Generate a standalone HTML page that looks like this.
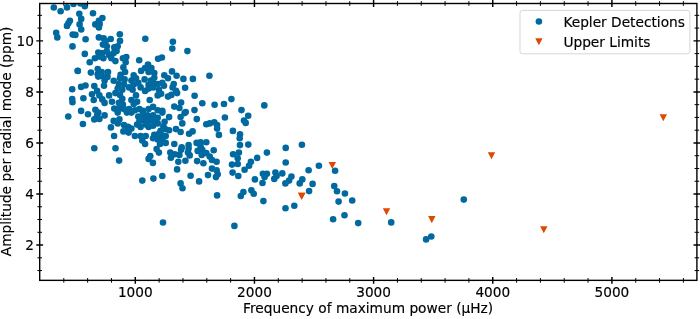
<!DOCTYPE html>
<html><head><meta charset="utf-8"><title>Amplitude vs frequency</title>
<style>html,body{margin:0;padding:0;background:#fff}body{width:700px;height:319px;overflow:hidden}svg{display:block}text{stroke:#000;stroke-width:0.15px;font-family:"DejaVu Sans","Liberation Sans",sans-serif;fill:#000}</style></head><body>
<svg width="700" height="319" viewBox="0 0 700 319">
<rect width="700" height="319" fill="#fff"/>
<defs><clipPath id="ax"><rect x="39.7" y="3.5" width="657.1999999999999" height="276.85"/></clipPath></defs>
<g clip-path="url(#ax)" fill="#0069a0">
<circle cx="53.8" cy="7.5" r="3.3"/>
<circle cx="60.6" cy="11.3" r="3.3"/>
<circle cx="67.0" cy="7.4" r="3.3"/>
<circle cx="73.5" cy="3.9" r="3.3"/>
<circle cx="80.5" cy="3.5" r="3.3"/>
<circle cx="84.8" cy="6.3" r="3.3"/>
<circle cx="93.0" cy="13.2" r="3.3"/>
<circle cx="79.3" cy="13.8" r="3.3"/>
<circle cx="81.2" cy="18.9" r="3.3"/>
<circle cx="69.9" cy="20.7" r="3.3"/>
<circle cx="67.0" cy="25.9" r="3.3"/>
<circle cx="79.6" cy="24.4" r="3.3"/>
<circle cx="81.2" cy="29.5" r="3.3"/>
<circle cx="102.4" cy="18.1" r="3.3"/>
<circle cx="98.9" cy="20.7" r="3.3"/>
<circle cx="95.3" cy="24.4" r="3.3"/>
<circle cx="98.9" cy="27.5" r="3.3"/>
<circle cx="56.2" cy="32.7" r="3.3"/>
<circle cx="57.3" cy="37.4" r="3.3"/>
<circle cx="72.7" cy="34.6" r="3.3"/>
<circle cx="75.4" cy="34.9" r="3.3"/>
<circle cx="85.6" cy="39.3" r="3.3"/>
<circle cx="72.5" cy="46.4" r="3.3"/>
<circle cx="98.9" cy="37.4" r="3.3"/>
<circle cx="103.6" cy="38.2" r="3.3"/>
<circle cx="110.7" cy="39.0" r="3.3"/>
<circle cx="119.8" cy="34.3" r="3.3"/>
<circle cx="145.3" cy="38.7" r="3.3"/>
<circle cx="68.4" cy="23.3" r="3.3"/>
<circle cx="99.7" cy="23.9" r="3.3"/>
<circle cx="77.7" cy="70.7" r="3.3"/>
<circle cx="72.2" cy="89.3" r="3.3"/>
<circle cx="72.2" cy="99.0" r="3.3"/>
<circle cx="68.3" cy="116.5" r="3.3"/>
<circle cx="335.1" cy="170.7" r="3.3"/>
<circle cx="334.2" cy="186.1" r="3.3"/>
<circle cx="337.0" cy="191.2" r="3.3"/>
<circle cx="344.9" cy="193.5" r="3.3"/>
<circle cx="163.0" cy="222.5" r="3.3"/>
<circle cx="234.4" cy="225.9" r="3.3"/>
<circle cx="338.6" cy="201.6" r="3.3"/>
<circle cx="352.2" cy="200.5" r="3.3"/>
<circle cx="344.5" cy="215.2" r="3.3"/>
<circle cx="333.1" cy="219.3" r="3.3"/>
<circle cx="358.2" cy="223.1" r="3.3"/>
<circle cx="463.8" cy="199.6" r="3.3"/>
<circle cx="391.2" cy="222.4" r="3.3"/>
<circle cx="426.1" cy="239.4" r="3.3"/>
<circle cx="431.3" cy="236.5" r="3.3"/>
<circle cx="84.8" cy="53.9" r="3.3"/>
<circle cx="89.7" cy="62.3" r="3.3"/>
<circle cx="94.9" cy="58.3" r="3.3"/>
<circle cx="98.3" cy="52.6" r="3.3"/>
<circle cx="103.4" cy="58.3" r="3.3"/>
<circle cx="102.9" cy="44.6" r="3.3"/>
<circle cx="105.7" cy="41.1" r="3.3"/>
<circle cx="106.9" cy="46.3" r="3.3"/>
<circle cx="106.9" cy="51.4" r="3.3"/>
<circle cx="109.1" cy="54.9" r="3.3"/>
<circle cx="111.4" cy="58.3" r="3.3"/>
<circle cx="115.4" cy="61.1" r="3.3"/>
<circle cx="114.3" cy="47.4" r="3.3"/>
<circle cx="117.7" cy="46.3" r="3.3"/>
<circle cx="116.6" cy="50.9" r="3.3"/>
<circle cx="113.7" cy="53.1" r="3.3"/>
<circle cx="120.0" cy="40.9" r="3.3"/>
<circle cx="122.9" cy="58.3" r="3.3"/>
<circle cx="126.3" cy="57.1" r="3.3"/>
<circle cx="125.7" cy="62.3" r="3.3"/>
<circle cx="123.4" cy="67.4" r="3.3"/>
<circle cx="125.1" cy="72.0" r="3.3"/>
<circle cx="120.6" cy="74.9" r="3.3"/>
<circle cx="139.2" cy="60.3" r="3.3"/>
<circle cx="148.0" cy="64.6" r="3.3"/>
<circle cx="145.1" cy="68.0" r="3.3"/>
<circle cx="151.4" cy="68.0" r="3.3"/>
<circle cx="141.1" cy="70.9" r="3.3"/>
<circle cx="148.6" cy="72.0" r="3.3"/>
<circle cx="154.3" cy="73.1" r="3.3"/>
<circle cx="90.9" cy="72.6" r="3.3"/>
<circle cx="97.7" cy="69.1" r="3.3"/>
<circle cx="101.7" cy="72.0" r="3.3"/>
<circle cx="108.0" cy="72.0" r="3.3"/>
<circle cx="101.1" cy="75.9" r="3.3"/>
<circle cx="107.2" cy="75.9" r="3.3"/>
<circle cx="97.7" cy="74.3" r="3.3"/>
<circle cx="102.3" cy="53.1" r="3.3"/>
<circle cx="99.4" cy="56.6" r="3.3"/>
<circle cx="148.6" cy="68.6" r="3.3"/>
<circle cx="133.7" cy="75.4" r="3.3"/>
<circle cx="172.9" cy="41.7" r="3.3"/>
<circle cx="172.3" cy="48.6" r="3.3"/>
<circle cx="187.4" cy="51.1" r="3.3"/>
<circle cx="172.0" cy="71.4" r="3.3"/>
<circle cx="164.3" cy="75.2" r="3.3"/>
<circle cx="176.6" cy="75.7" r="3.3"/>
<circle cx="209.4" cy="75.7" r="3.3"/>
<circle cx="81.1" cy="86.9" r="3.3"/>
<circle cx="85.5" cy="85.5" r="3.3"/>
<circle cx="83.4" cy="98.3" r="3.3"/>
<circle cx="94.3" cy="86.1" r="3.3"/>
<circle cx="92.0" cy="94.3" r="3.3"/>
<circle cx="93.7" cy="100.0" r="3.3"/>
<circle cx="97.1" cy="90.9" r="3.3"/>
<circle cx="99.4" cy="95.4" r="3.3"/>
<circle cx="102.3" cy="99.4" r="3.3"/>
<circle cx="104.6" cy="102.9" r="3.3"/>
<circle cx="104.6" cy="80.6" r="3.3"/>
<circle cx="104.0" cy="85.7" r="3.3"/>
<circle cx="98.3" cy="76.6" r="3.3"/>
<circle cx="107.4" cy="77.1" r="3.3"/>
<circle cx="113.7" cy="80.8" r="3.3"/>
<circle cx="109.1" cy="95.4" r="3.3"/>
<circle cx="112.0" cy="101.7" r="3.3"/>
<circle cx="95.4" cy="109.7" r="3.3"/>
<circle cx="81.1" cy="110.9" r="3.3"/>
<circle cx="120.0" cy="78.3" r="3.3"/>
<circle cx="124.6" cy="79.4" r="3.3"/>
<circle cx="118.9" cy="84.0" r="3.3"/>
<circle cx="124.0" cy="84.6" r="3.3"/>
<circle cx="117.7" cy="88.6" r="3.3"/>
<circle cx="122.3" cy="89.7" r="3.3"/>
<circle cx="115.4" cy="93.1" r="3.3"/>
<circle cx="120.0" cy="94.9" r="3.3"/>
<circle cx="122.3" cy="98.9" r="3.3"/>
<circle cx="118.9" cy="102.9" r="3.3"/>
<circle cx="122.9" cy="104.6" r="3.3"/>
<circle cx="114.3" cy="108.6" r="3.3"/>
<circle cx="118.9" cy="109.1" r="3.3"/>
<circle cx="124.0" cy="109.1" r="3.3"/>
<circle cx="131.4" cy="80.6" r="3.3"/>
<circle cx="129.1" cy="87.4" r="3.3"/>
<circle cx="132.6" cy="89.7" r="3.3"/>
<circle cx="136.0" cy="78.3" r="3.3"/>
<circle cx="138.3" cy="82.9" r="3.3"/>
<circle cx="140.6" cy="87.4" r="3.3"/>
<circle cx="144.6" cy="79.4" r="3.3"/>
<circle cx="148.6" cy="84.7" r="3.3"/>
<circle cx="150.9" cy="80.6" r="3.3"/>
<circle cx="154.3" cy="77.7" r="3.3"/>
<circle cx="145.1" cy="90.9" r="3.3"/>
<circle cx="148.6" cy="88.6" r="3.3"/>
<circle cx="153.1" cy="87.4" r="3.3"/>
<circle cx="157.7" cy="84.0" r="3.3"/>
<circle cx="158.9" cy="89.7" r="3.3"/>
<circle cx="136.0" cy="95.4" r="3.3"/>
<circle cx="131.4" cy="100.0" r="3.3"/>
<circle cx="137.1" cy="101.7" r="3.3"/>
<circle cx="133.7" cy="104.0" r="3.3"/>
<circle cx="149.7" cy="100.0" r="3.3"/>
<circle cx="157.7" cy="95.4" r="3.3"/>
<circle cx="153.1" cy="106.9" r="3.3"/>
<circle cx="148.6" cy="109.1" r="3.3"/>
<circle cx="157.7" cy="110.3" r="3.3"/>
<circle cx="142.9" cy="110.9" r="3.3"/>
<circle cx="129.1" cy="109.1" r="3.3"/>
<circle cx="134.9" cy="110.3" r="3.3"/>
<circle cx="133.7" cy="84.6" r="3.3"/>
<circle cx="153.1" cy="82.9" r="3.3"/>
<circle cx="139.4" cy="109.1" r="3.3"/>
<circle cx="168.0" cy="78.3" r="3.3"/>
<circle cx="183.4" cy="78.9" r="3.3"/>
<circle cx="192.9" cy="78.9" r="3.3"/>
<circle cx="162.3" cy="82.9" r="3.3"/>
<circle cx="164.0" cy="85.7" r="3.3"/>
<circle cx="173.7" cy="84.0" r="3.3"/>
<circle cx="172.6" cy="87.4" r="3.3"/>
<circle cx="185.1" cy="87.7" r="3.3"/>
<circle cx="176.0" cy="90.9" r="3.3"/>
<circle cx="177.1" cy="93.1" r="3.3"/>
<circle cx="171.4" cy="94.9" r="3.3"/>
<circle cx="168.0" cy="96.6" r="3.3"/>
<circle cx="161.1" cy="93.7" r="3.3"/>
<circle cx="194.6" cy="95.7" r="3.3"/>
<circle cx="181.1" cy="102.5" r="3.3"/>
<circle cx="174.3" cy="106.6" r="3.3"/>
<circle cx="179.4" cy="108.0" r="3.3"/>
<circle cx="202.3" cy="103.2" r="3.3"/>
<circle cx="214.6" cy="104.8" r="3.3"/>
<circle cx="224.0" cy="104.0" r="3.3"/>
<circle cx="231.4" cy="99.1" r="3.3"/>
<circle cx="194.5" cy="110.1" r="3.3"/>
<circle cx="162.3" cy="110.9" r="3.3"/>
<circle cx="185.7" cy="112.0" r="3.3"/>
<circle cx="264.3" cy="105.4" r="3.3"/>
<circle cx="241.5" cy="110.1" r="3.3"/>
<circle cx="88.0" cy="114.3" r="3.3"/>
<circle cx="94.3" cy="119.4" r="3.3"/>
<circle cx="97.1" cy="115.4" r="3.3"/>
<circle cx="99.4" cy="118.9" r="3.3"/>
<circle cx="104.6" cy="115.4" r="3.3"/>
<circle cx="98.3" cy="112.6" r="3.3"/>
<circle cx="82.9" cy="124.0" r="3.3"/>
<circle cx="113.7" cy="120.9" r="3.3"/>
<circle cx="119.4" cy="119.4" r="3.3"/>
<circle cx="110.9" cy="127.4" r="3.3"/>
<circle cx="117.7" cy="123.4" r="3.3"/>
<circle cx="124.0" cy="125.1" r="3.3"/>
<circle cx="128.0" cy="126.9" r="3.3"/>
<circle cx="131.4" cy="128.6" r="3.3"/>
<circle cx="123.4" cy="131.4" r="3.3"/>
<circle cx="128.6" cy="132.6" r="3.3"/>
<circle cx="114.1" cy="136.0" r="3.3"/>
<circle cx="134.9" cy="136.0" r="3.3"/>
<circle cx="140.6" cy="136.0" r="3.3"/>
<circle cx="145.7" cy="136.0" r="3.3"/>
<circle cx="142.3" cy="140.6" r="3.3"/>
<circle cx="145.1" cy="144.0" r="3.3"/>
<circle cx="126.9" cy="112.6" r="3.3"/>
<circle cx="131.4" cy="112.6" r="3.3"/>
<circle cx="138.3" cy="116.6" r="3.3"/>
<circle cx="142.9" cy="114.9" r="3.3"/>
<circle cx="147.4" cy="115.4" r="3.3"/>
<circle cx="153.1" cy="115.4" r="3.3"/>
<circle cx="157.7" cy="117.7" r="3.3"/>
<circle cx="139.4" cy="121.1" r="3.3"/>
<circle cx="144.0" cy="120.6" r="3.3"/>
<circle cx="148.6" cy="121.1" r="3.3"/>
<circle cx="154.3" cy="121.7" r="3.3"/>
<circle cx="140.6" cy="126.9" r="3.3"/>
<circle cx="148.6" cy="126.9" r="3.3"/>
<circle cx="153.1" cy="125.7" r="3.3"/>
<circle cx="157.7" cy="123.4" r="3.3"/>
<circle cx="137.1" cy="124.6" r="3.3"/>
<circle cx="154.3" cy="134.9" r="3.3"/>
<circle cx="158.9" cy="133.7" r="3.3"/>
<circle cx="153.1" cy="138.3" r="3.3"/>
<circle cx="157.7" cy="139.4" r="3.3"/>
<circle cx="160.0" cy="144.0" r="3.3"/>
<circle cx="117.7" cy="112.6" r="3.3"/>
<circle cx="94.3" cy="148.3" r="3.3"/>
<circle cx="115.5" cy="148.3" r="3.3"/>
<circle cx="145.1" cy="118.3" r="3.3"/>
<circle cx="145.7" cy="124.6" r="3.3"/>
<circle cx="151.4" cy="118.9" r="3.3"/>
<circle cx="162.3" cy="112.6" r="3.3"/>
<circle cx="169.1" cy="117.1" r="3.3"/>
<circle cx="184.6" cy="113.1" r="3.3"/>
<circle cx="180.6" cy="117.1" r="3.3"/>
<circle cx="182.3" cy="123.4" r="3.3"/>
<circle cx="196.8" cy="119.1" r="3.3"/>
<circle cx="224.9" cy="117.5" r="3.3"/>
<circle cx="206.3" cy="124.3" r="3.3"/>
<circle cx="209.7" cy="123.4" r="3.3"/>
<circle cx="214.3" cy="122.3" r="3.3"/>
<circle cx="217.1" cy="125.1" r="3.3"/>
<circle cx="217.1" cy="128.6" r="3.3"/>
<circle cx="218.9" cy="134.9" r="3.3"/>
<circle cx="232.9" cy="130.9" r="3.3"/>
<circle cx="164.6" cy="121.7" r="3.3"/>
<circle cx="163.4" cy="126.3" r="3.3"/>
<circle cx="165.1" cy="129.1" r="3.3"/>
<circle cx="169.1" cy="130.3" r="3.3"/>
<circle cx="176.0" cy="129.1" r="3.3"/>
<circle cx="180.6" cy="132.0" r="3.3"/>
<circle cx="192.6" cy="131.4" r="3.3"/>
<circle cx="189.1" cy="133.7" r="3.3"/>
<circle cx="161.1" cy="134.9" r="3.3"/>
<circle cx="165.7" cy="136.0" r="3.3"/>
<circle cx="162.3" cy="139.4" r="3.3"/>
<circle cx="165.7" cy="142.9" r="3.3"/>
<circle cx="174.3" cy="144.0" r="3.3"/>
<circle cx="181.7" cy="147.4" r="3.3"/>
<circle cx="188.6" cy="145.1" r="3.3"/>
<circle cx="196.6" cy="142.9" r="3.3"/>
<circle cx="200.6" cy="142.3" r="3.3"/>
<circle cx="206.3" cy="142.3" r="3.3"/>
<circle cx="200.6" cy="146.3" r="3.3"/>
<circle cx="160.6" cy="130.9" r="3.3"/>
<circle cx="248.2" cy="115.7" r="3.3"/>
<circle cx="244.0" cy="120.6" r="3.3"/>
<circle cx="245.7" cy="122.9" r="3.3"/>
<circle cx="240.0" cy="134.3" r="3.3"/>
<circle cx="239.7" cy="138.3" r="3.3"/>
<circle cx="240.0" cy="145.1" r="3.3"/>
<circle cx="248.3" cy="144.6" r="3.3"/>
<circle cx="285.7" cy="147.9" r="3.3"/>
<circle cx="301.9" cy="144.8" r="3.3"/>
<circle cx="119.1" cy="160.6" r="3.3"/>
<circle cx="150.3" cy="156.0" r="3.3"/>
<circle cx="148.6" cy="158.9" r="3.3"/>
<circle cx="152.9" cy="162.9" r="3.3"/>
<circle cx="158.9" cy="152.6" r="3.3"/>
<circle cx="156.6" cy="149.1" r="3.3"/>
<circle cx="142.3" cy="180.6" r="3.3"/>
<circle cx="153.4" cy="178.6" r="3.3"/>
<circle cx="170.3" cy="152.6" r="3.3"/>
<circle cx="170.9" cy="157.7" r="3.3"/>
<circle cx="174.9" cy="154.3" r="3.3"/>
<circle cx="179.4" cy="154.9" r="3.3"/>
<circle cx="181.1" cy="149.7" r="3.3"/>
<circle cx="178.3" cy="161.7" r="3.3"/>
<circle cx="185.4" cy="160.8" r="3.3"/>
<circle cx="188.0" cy="152.6" r="3.3"/>
<circle cx="189.7" cy="155.4" r="3.3"/>
<circle cx="188.6" cy="148.6" r="3.3"/>
<circle cx="177.1" cy="169.4" r="3.3"/>
<circle cx="162.3" cy="176.0" r="3.3"/>
<circle cx="190.6" cy="175.8" r="3.3"/>
<circle cx="199.1" cy="181.4" r="3.3"/>
<circle cx="180.6" cy="183.4" r="3.3"/>
<circle cx="197.1" cy="161.1" r="3.3"/>
<circle cx="203.4" cy="163.2" r="3.3"/>
<circle cx="197.7" cy="150.9" r="3.3"/>
<circle cx="202.3" cy="149.7" r="3.3"/>
<circle cx="201.7" cy="154.9" r="3.3"/>
<circle cx="206.3" cy="153.1" r="3.3"/>
<circle cx="209.7" cy="156.6" r="3.3"/>
<circle cx="212.0" cy="160.0" r="3.3"/>
<circle cx="216.6" cy="161.7" r="3.3"/>
<circle cx="213.7" cy="150.3" r="3.3"/>
<circle cx="212.0" cy="168.6" r="3.3"/>
<circle cx="216.6" cy="170.3" r="3.3"/>
<circle cx="217.7" cy="174.3" r="3.3"/>
<circle cx="216.0" cy="177.1" r="3.3"/>
<circle cx="208.0" cy="175.1" r="3.3"/>
<circle cx="233.1" cy="154.3" r="3.3"/>
<circle cx="238.9" cy="152.6" r="3.3"/>
<circle cx="237.7" cy="158.3" r="3.3"/>
<circle cx="232.0" cy="164.6" r="3.3"/>
<circle cx="237.7" cy="164.0" r="3.3"/>
<circle cx="232.6" cy="172.6" r="3.3"/>
<circle cx="238.3" cy="176.0" r="3.3"/>
<circle cx="266.9" cy="152.6" r="3.3"/>
<circle cx="257.1" cy="157.9" r="3.3"/>
<circle cx="250.9" cy="161.7" r="3.3"/>
<circle cx="249.1" cy="165.7" r="3.3"/>
<circle cx="244.6" cy="169.7" r="3.3"/>
<circle cx="285.7" cy="162.5" r="3.3"/>
<circle cx="318.9" cy="165.7" r="3.3"/>
<circle cx="308.6" cy="170.3" r="3.3"/>
<circle cx="262.9" cy="173.7" r="3.3"/>
<circle cx="266.9" cy="173.7" r="3.3"/>
<circle cx="264.6" cy="177.1" r="3.3"/>
<circle cx="254.9" cy="179.4" r="3.3"/>
<circle cx="262.5" cy="183.0" r="3.3"/>
<circle cx="275.4" cy="172.6" r="3.3"/>
<circle cx="276.6" cy="176.0" r="3.3"/>
<circle cx="274.3" cy="178.9" r="3.3"/>
<circle cx="282.3" cy="173.4" r="3.3"/>
<circle cx="291.4" cy="176.6" r="3.3"/>
<circle cx="289.1" cy="180.6" r="3.3"/>
<circle cx="285.4" cy="183.4" r="3.3"/>
<circle cx="302.3" cy="179.4" r="3.3"/>
<circle cx="299.7" cy="183.4" r="3.3"/>
<circle cx="312.6" cy="183.9" r="3.3"/>
<circle cx="182.5" cy="188.3" r="3.3"/>
<circle cx="217.1" cy="195.4" r="3.3"/>
<circle cx="243.4" cy="192.0" r="3.3"/>
<circle cx="240.8" cy="196.0" r="3.3"/>
<circle cx="251.4" cy="190.3" r="3.3"/>
<circle cx="253.7" cy="193.7" r="3.3"/>
<circle cx="263.4" cy="201.1" r="3.3"/>
<circle cx="309.1" cy="191.1" r="3.3"/>
<circle cx="294.3" cy="205.7" r="3.3"/>
<circle cx="285.5" cy="208.3" r="3.3"/>
<circle cx="72.5" cy="102.2" r="3.3"/>
<circle cx="77.8" cy="71.0" r="3.3"/>
<circle cx="158.1" cy="58.7" r="3.3"/>
<circle cx="161.9" cy="57.5" r="3.3"/>
</g>
<g fill="#de4800">
<path d="M328.60 161.95H336.00L332.30 169.05Z"/>
<path d="M382.80 208.15H390.20L386.50 215.25Z"/>
<path d="M428.10 216.05H435.50L431.80 223.15Z"/>
<path d="M487.80 152.25H495.20L491.50 159.35Z"/>
<path d="M540.10 226.15H547.50L543.80 233.25Z"/>
<path d="M659.60 114.15H667.00L663.30 121.25Z"/>
<path d="M298.00 192.75H305.40L301.70 199.85Z"/>
<path d="M298.00 192.75H305.40L301.70 199.85Z"/>
</g>
<g stroke="#000" stroke-width="1" fill="none">
<path d="M63.81 278.05V282.65000000000003M63.81 1.2000000000000002V5.8" stroke-width="1.0"/>
<path d="M87.64 278.05V282.65000000000003M87.64 1.2000000000000002V5.8" stroke-width="1.0"/>
<path d="M111.47 278.05V282.65000000000003M111.47 1.2000000000000002V5.8" stroke-width="1.0"/>
<path d="M135.30 276.95000000000005V283.75M135.30 0.10000000000000009V6.9" stroke-width="1.45"/>
<path d="M159.13 278.05V282.65000000000003M159.13 1.2000000000000002V5.8" stroke-width="1.0"/>
<path d="M182.96 278.05V282.65000000000003M182.96 1.2000000000000002V5.8" stroke-width="1.0"/>
<path d="M206.79 278.05V282.65000000000003M206.79 1.2000000000000002V5.8" stroke-width="1.0"/>
<path d="M230.62 278.05V282.65000000000003M230.62 1.2000000000000002V5.8" stroke-width="1.0"/>
<path d="M254.45 276.95000000000005V283.75M254.45 0.10000000000000009V6.9" stroke-width="1.45"/>
<path d="M278.28 278.05V282.65000000000003M278.28 1.2000000000000002V5.8" stroke-width="1.0"/>
<path d="M302.11 278.05V282.65000000000003M302.11 1.2000000000000002V5.8" stroke-width="1.0"/>
<path d="M325.94 278.05V282.65000000000003M325.94 1.2000000000000002V5.8" stroke-width="1.0"/>
<path d="M349.77 278.05V282.65000000000003M349.77 1.2000000000000002V5.8" stroke-width="1.0"/>
<path d="M373.60 276.95000000000005V283.75M373.60 0.10000000000000009V6.9" stroke-width="1.45"/>
<path d="M397.43 278.05V282.65000000000003M397.43 1.2000000000000002V5.8" stroke-width="1.0"/>
<path d="M421.26 278.05V282.65000000000003M421.26 1.2000000000000002V5.8" stroke-width="1.0"/>
<path d="M445.09 278.05V282.65000000000003M445.09 1.2000000000000002V5.8" stroke-width="1.0"/>
<path d="M468.92 278.05V282.65000000000003M468.92 1.2000000000000002V5.8" stroke-width="1.0"/>
<path d="M492.75 276.95000000000005V283.75M492.75 0.10000000000000009V6.9" stroke-width="1.45"/>
<path d="M516.58 278.05V282.65000000000003M516.58 1.2000000000000002V5.8" stroke-width="1.0"/>
<path d="M540.41 278.05V282.65000000000003M540.41 1.2000000000000002V5.8" stroke-width="1.0"/>
<path d="M564.24 278.05V282.65000000000003M564.24 1.2000000000000002V5.8" stroke-width="1.0"/>
<path d="M588.07 278.05V282.65000000000003M588.07 1.2000000000000002V5.8" stroke-width="1.0"/>
<path d="M611.90 276.95000000000005V283.75M611.90 0.10000000000000009V6.9" stroke-width="1.45"/>
<path d="M635.73 278.05V282.65000000000003M635.73 1.2000000000000002V5.8" stroke-width="1.0"/>
<path d="M659.56 278.05V282.65000000000003M659.56 1.2000000000000002V5.8" stroke-width="1.0"/>
<path d="M683.39 278.05V282.65000000000003M683.39 1.2000000000000002V5.8" stroke-width="1.0"/>
<path d="M37.400000000000006 270.57H42.0M694.6 270.57H699.1999999999999" stroke-width="1.0"/>
<path d="M37.400000000000006 257.81H42.0M694.6 257.81H699.1999999999999" stroke-width="1.0"/>
<path d="M36.300000000000004 245.05H43.1M693.5 245.05H700.3" stroke-width="1.45"/>
<path d="M37.400000000000006 232.29H42.0M694.6 232.29H699.1999999999999" stroke-width="1.0"/>
<path d="M37.400000000000006 219.52H42.0M694.6 219.52H699.1999999999999" stroke-width="1.0"/>
<path d="M37.400000000000006 206.76H42.0M694.6 206.76H699.1999999999999" stroke-width="1.0"/>
<path d="M36.300000000000004 194.00H43.1M693.5 194.00H700.3" stroke-width="1.45"/>
<path d="M37.400000000000006 181.24H42.0M694.6 181.24H699.1999999999999" stroke-width="1.0"/>
<path d="M37.400000000000006 168.47H42.0M694.6 168.47H699.1999999999999" stroke-width="1.0"/>
<path d="M37.400000000000006 155.71H42.0M694.6 155.71H699.1999999999999" stroke-width="1.0"/>
<path d="M36.300000000000004 142.95H43.1M693.5 142.95H700.3" stroke-width="1.45"/>
<path d="M37.400000000000006 130.19H42.0M694.6 130.19H699.1999999999999" stroke-width="1.0"/>
<path d="M37.400000000000006 117.42H42.0M694.6 117.42H699.1999999999999" stroke-width="1.0"/>
<path d="M37.400000000000006 104.66H42.0M694.6 104.66H699.1999999999999" stroke-width="1.0"/>
<path d="M36.300000000000004 91.90H43.1M693.5 91.90H700.3" stroke-width="1.45"/>
<path d="M37.400000000000006 79.14H42.0M694.6 79.14H699.1999999999999" stroke-width="1.0"/>
<path d="M37.400000000000006 66.38H42.0M694.6 66.38H699.1999999999999" stroke-width="1.0"/>
<path d="M37.400000000000006 53.61H42.0M694.6 53.61H699.1999999999999" stroke-width="1.0"/>
<path d="M36.300000000000004 40.85H43.1M693.5 40.85H700.3" stroke-width="1.45"/>
<path d="M37.400000000000006 28.09H42.0M694.6 28.09H699.1999999999999" stroke-width="1.0"/>
<path d="M37.400000000000006 15.33H42.0M694.6 15.33H699.1999999999999" stroke-width="1.0"/>
</g>
<rect x="39.7" y="3.5" width="657.1999999999999" height="276.85" fill="none" stroke="#000" stroke-width="1.4"/>
<text transform="translate(135.3 296.7) scale(1 1.05)" font-size="13.7" text-anchor="middle">1000</text>
<text transform="translate(254.5 296.7) scale(1 1.05)" font-size="13.7" text-anchor="middle">2000</text>
<text transform="translate(373.6 296.7) scale(1 1.05)" font-size="13.7" text-anchor="middle">3000</text>
<text transform="translate(492.8 296.7) scale(1 1.05)" font-size="13.7" text-anchor="middle">4000</text>
<text transform="translate(611.9 296.7) scale(1 1.05)" font-size="13.7" text-anchor="middle">5000</text>
<text x="34.0" y="250.1" font-size="13.7" text-anchor="end">2</text>
<text x="34.0" y="199.1" font-size="13.7" text-anchor="end">4</text>
<text x="34.0" y="148.0" font-size="13.7" text-anchor="end">6</text>
<text x="34.0" y="97.0" font-size="13.7" text-anchor="end">8</text>
<text x="34.0" y="46.0" font-size="13.7" text-anchor="end">10</text>
<text x="368.1" y="312.8" font-size="13.72" text-anchor="middle">Frequency of maximum power (µHz)</text>
<text transform="translate(11.1 141.4) rotate(-90)" font-size="13.72" text-anchor="middle">Amplitude per radial mode (ppm)</text>
<rect x="520" y="10.4" width="169.9" height="43.4" rx="2.6" fill="#fff" fill-opacity="0.8" stroke="#ccc" stroke-opacity="0.8" stroke-width="1"/>
<circle cx="538.9" cy="21.5" r="3.3" fill="#0069a0"/>
<g fill="#de4800"><path d="M535.20 38.15H542.60L538.90 45.25Z"/></g>
<text x="563.4" y="26.5" font-size="13.72">Kepler Detections</text>
<text x="563.4" y="46.9" font-size="13.72">Upper Limits</text>
</svg></body></html>
